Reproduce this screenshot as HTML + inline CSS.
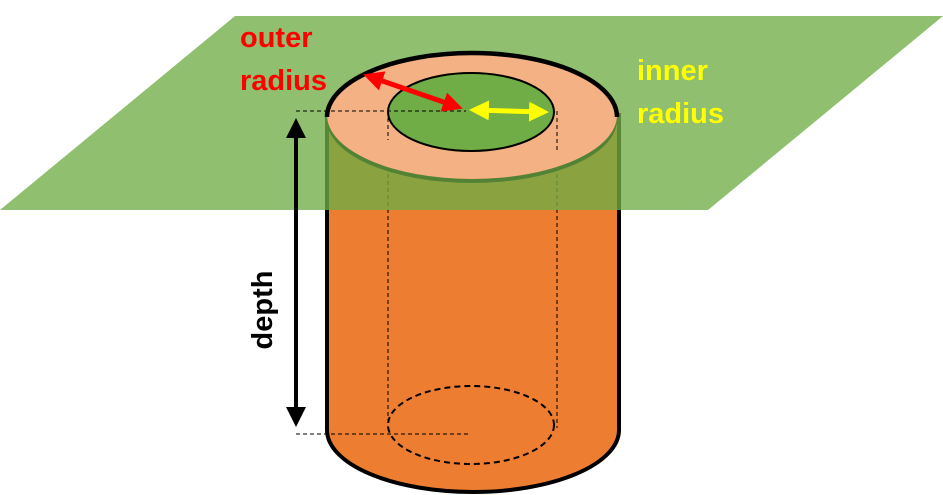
<!DOCTYPE html>
<html><head><style>body{margin:0;background:#fff}svg{display:block}</style></head><body>
<svg width="943" height="495" viewBox="0 0 943 495" xmlns="http://www.w3.org/2000/svg">
<defs>
<marker id="ar" markerWidth="4" markerHeight="4" refX="3" refY="2" orient="auto-start-reverse" markerUnits="strokeWidth"><path d="M0,0 L4,2 L0,4z" fill="#f00"/></marker>
<marker id="ay" markerWidth="4" markerHeight="4" refX="3" refY="2" orient="auto-start-reverse" markerUnits="strokeWidth"><path d="M0,0 L4,2 L0,4z" fill="#ff0"/></marker>
<marker id="ab" markerWidth="5" markerHeight="5" refX="3.5" refY="2.5" orient="auto-start-reverse" markerUnits="strokeWidth"><path d="M0,0 L5,2.5 L0,5z" fill="#000"/></marker>
</defs>
<path d="M327,115 L327,430 A146,62 0 0 0 619,430 L619,115 Z" fill="#ed7d31" stroke="#000" stroke-width="4"/>
<line x1="388" y1="111" x2="388" y2="428" stroke="#000" stroke-width="1" stroke-dasharray="4,3"/>
<line x1="557" y1="111" x2="557" y2="428" stroke="#000" stroke-width="1" stroke-dasharray="4,3"/>
<ellipse cx="471" cy="425" rx="83" ry="39" fill="none" stroke="#000" stroke-width="2" stroke-dasharray="6,4"/>
<line x1="296" y1="434" x2="470" y2="434" stroke="#000" stroke-width="1" stroke-dasharray="4,3"/>
<polygon points="235,16 943,16 708,210 0,210" fill="rgba(112,173,71,0.78)"/>
<ellipse cx="472" cy="120" rx="145" ry="63" fill="#548235"/>
<ellipse cx="472" cy="115" rx="145" ry="64" fill="#f4b183"/>
<path d="M327,117 A145,64 0 0 1 617,117" fill="none" stroke="#000" stroke-width="4.5"/>
<ellipse cx="471" cy="112" rx="83" ry="39" fill="#70ad47" stroke="#000" stroke-width="2"/>
<line x1="296" y1="111" x2="466" y2="111" stroke="#000" stroke-width="1" stroke-dasharray="4,3"/>
<line x1="388" y1="111" x2="388" y2="140" stroke="#000" stroke-width="1" stroke-dasharray="4,3"/>
<line x1="557" y1="111" x2="557" y2="150" stroke="#000" stroke-width="1" stroke-dasharray="4,3"/>
<line x1="368" y1="76" x2="458" y2="107" stroke="#f00" stroke-width="5" marker-start="url(#ar)" marker-end="url(#ar)"/>
<line x1="474" y1="110" x2="544" y2="112" stroke="#ff0" stroke-width="5" marker-start="url(#ay)" marker-end="url(#ay)"/>
<line x1="296" y1="124" x2="296" y2="421" stroke="#000" stroke-width="4" marker-start="url(#ab)" marker-end="url(#ab)"/>
<g font-family="Liberation Sans, sans-serif" font-weight="bold" font-size="29">
<text x="240" y="47" fill="#f00">outer</text>
<text x="240" y="90" fill="#f00">radius</text>
<text x="637" y="80" fill="#ff0">inner</text>
<text x="637" y="123" fill="#ff0">radius</text>
<text transform="translate(272,310) rotate(-90)" text-anchor="middle" fill="#000">depth</text>
</g>
</svg>
</body></html>
